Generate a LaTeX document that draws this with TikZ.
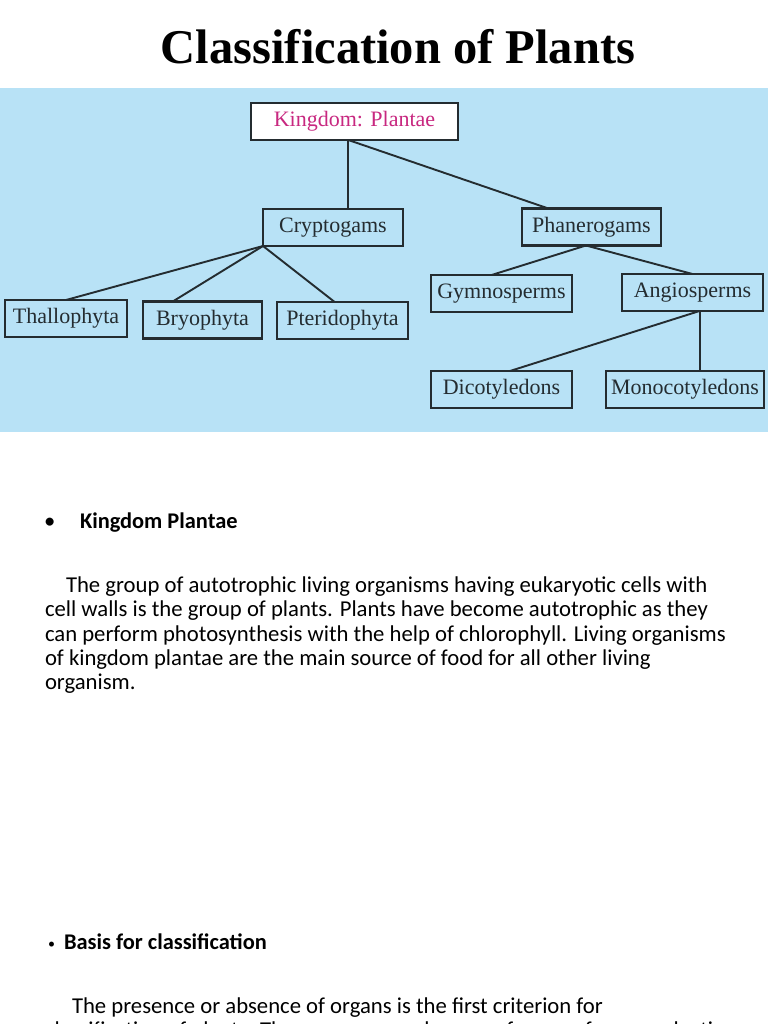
\documentclass[tikz,border=0pt]{standalone}
\usepackage{fontspec}
\setmainfont{Liberation Serif}
\newfontfamily\bodyfont{Carlito}
\usepackage{xcolor}
\usepackage{tikz}
\usetikzlibrary{calc}
\definecolor{panelblue}{RGB}{184,226,246}
\definecolor{rootpink}{RGB}{200,40,128}
\definecolor{boxline}{RGB}{36,44,48}

\begin{document}
\begin{tikzpicture}[
  x=1pt, y=-1pt,
  every node/.style={inner sep=0pt, outer sep=0pt},
  taxon/.style={rectangle, draw=boxline, line width=2.2pt,
                minimum height=37pt, text=boxline,
                font=\fontsize{22}{24}\selectfont},
  root/.style={taxon, fill=white, text=rootpink},
  link/.style={draw=boxline, line width=1.9pt},
  body/.style={anchor=base west, text=black,
               font=\bodyfont\fontsize{22.7}{25}\selectfont},
]

%% ── Page ───────────────────────────────────────────────────────────────
\clip (0,0) rectangle (768,1024);
\fill[white] (0,0) rectangle (768,1024);

%% ── Title ──────────────────────────────────────────────────────────────
\node[font=\bfseries\fontsize{48.5}{52}\selectfont] (title) at (398,47)
  {Classification of Plants};

%% ── Blue panel ─────────────────────────────────────────────────────────
\fill[panelblue] (0,88) rectangle (768,432);

%% ── Taxa ───────────────────────────────────────────────────────────────
\node[root,  minimum width=207pt] (kingdom) at (354.5,121.5) {Kingdom: Plantae};
\node[taxon, minimum width=140pt] (crypto)  at (333,227.5)   {Cryptogams};
\node[taxon, minimum width=139pt] (phanero) at (591.5,227)   {Phanerogams};
\node[taxon, minimum width=122pt] (thallo)  at (66,318.5)    {Thallophyta};
\node[taxon, minimum width=119pt] (bryo)    at (202.5,320)   {Bryophyta};
\node[taxon, minimum width=131pt] (pterido) at (342.5,320.5) {Pteridophyta};
\node[taxon, minimum width=141pt] (gymno)   at (501.5,293.5) {Gymnosperms};
\node[taxon, minimum width=141pt] (angio)   at (692.5,292.5) {Angiosperms};
\node[taxon, minimum width=141pt] (dicot)   at (501.5,389.5) {Dicotyledons};
\node[taxon, minimum width=158pt] (monocot) at (685,389.5)   {Monocotyledons};

%% ── Branches ───────────────────────────────────────────────────────────
\coordinate (kfoot) at ($(kingdom.south west)!0.47!(kingdom.south east)$);
\draw[link] (kfoot) -- (kfoot |- crypto.north);
\draw[link] (kfoot) -- ($(phanero.north west)!0.19!(phanero.north east)$);

\draw[link] (crypto.south west) -- (thallo.north);
\draw[link] (crypto.south west) -- ($(bryo.north west)!0.25!(bryo.north east)$);
\draw[link] (crypto.south west) -- ($(pterido.north west)!0.44!(pterido.north east)$);

\coordinate (pfoot) at ($(phanero.south west)!0.46!(phanero.south east)$);
\draw[link] (pfoot) -- ($(gymno.north west)!0.43!(gymno.north east)$);
\draw[link] (pfoot) -- (angio.north);

\coordinate (afoot) at ($(angio.south west)!0.55!(angio.south east)$);
\draw[link] (afoot) -- ($(dicot.north west)!0.56!(dicot.north east)$);
\draw[link] (afoot) -- (afoot |- monocot.north);

%% ── Notes below the chart ──────────────────────────────────────────────
\node[body] (bul1) at (44,528) {\textbullet};
\node[body, font=\bodyfont\bfseries\fontsize{22.4}{25}\selectfont]
  (head1) at (80,528) {Kingdom Plantae};

\node[body] (par1a) at (66,592) {The group of autotrophic living organisms having eukaryotic cells with};
\node[body] (par1b) at (45,616) {cell walls is the group of plants. Plants have become autotrophic as they};
\node[body] (par1c) at (45,641) {can perform photosynthesis with the help of chlorophyll. Living organisms};
\node[body] (par1d) at (45,665) {of kingdom plantae are the main source of food for all other living};
\node[body] (par1e) at (45,689) {organism.};

\node[body, font=\bodyfont\fontsize{14}{16}\selectfont] (bul2) at (48,948) {\textbullet};
\node[body, font=\bodyfont\bfseries\fontsize{22.4}{25}\selectfont]
  (head2) at (64,949) {Basis for classification};

\node[body] (par2a) at (72,1013) {The presence or absence of organs is the first criterion for};
\node[body] (par2b) at (45,1037) {classification of plants. The presence or absence of organs for reproduction};

\end{tikzpicture}
\end{document}
